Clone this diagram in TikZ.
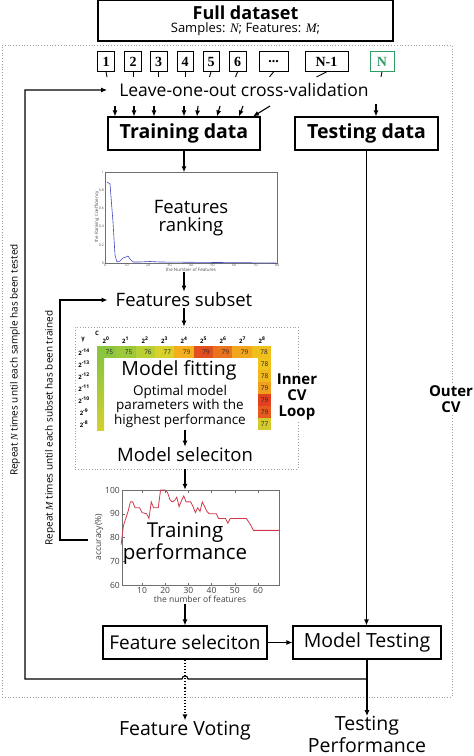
\documentclass[tikz,border=0pt]{standalone}
\usepackage{fontspec}
\setmainfont{Open Sans}
\newfontfamily\serifnum{Liberation Serif}
\usetikzlibrary{arrows.meta,positioning}

\definecolor{idgreen}{HTML}{2F9D63}
\definecolor{rankblue}{HTML}{4048C0}
\definecolor{accred}{HTML}{D2394C}
\definecolor{dotgray}{HTML}{A0A0A0}
\definecolor{axgray}{HTML}{707070}
% heat map colours
\definecolor{hmA}{HTML}{8CC540}
\definecolor{hmB}{HTML}{9CC93B}
\definecolor{hmC}{HTML}{B9CF33}
\definecolor{hmD}{HTML}{D7D12B}
\definecolor{hmE}{HTML}{F4B01B}
\definecolor{hmF}{HTML}{E3501F}
\definecolor{hmG}{HTML}{EA7320}
\definecolor{hmH}{HTML}{F2A61C}
\definecolor{hmI}{HTML}{EFC01C}
\definecolor{hmJ}{HTML}{F0C31C}
\definecolor{hmK}{HTML}{F1B71C}
\definecolor{hmL}{HTML}{EF9F1D}
\definecolor{hmM}{HTML}{E2401F}
\definecolor{hmN}{HTML}{E6591F}
\definecolor{hmO}{HTML}{D3CB2D}
\definecolor{hmP}{HTML}{D4D02C}

\newcommand{\itN}{{\serifnum\itshape N}}
\newcommand{\itM}{{\serifnum\itshape M}}
\newcommand{\fsz}[1]{\fontsize{#1}{#1}\selectfont}

\begin{document}
\begin{tikzpicture}[x=1pt, y=-1pt,
    box/.style={draw, line width=1.1pt, fill=white, inner sep=0pt},
    numbox/.style={draw, line width=0.9pt, minimum height=20pt, inner sep=0pt, font=\fsz{14}\serifnum\bfseries},
    arr/.style={-{Latex[length=6pt,width=5pt]}, line width=1.1pt},
    ticked/.style={line width=0.9pt},
    loopbox/.style={draw=dotgray, dotted, line width=0.8pt, inner sep=0pt},
    plotbox/.style={draw=axgray, line width=0.5pt, inner sep=0pt},
    axlabel/.style={font=\fsz{8.5}, text=black!75, inner sep=1pt},
    minilabel/.style={font=\fsz{3.5}, text=black!70, inner sep=0.5pt},
    hmval/.style={font=\fsz{6.5}, text=black!85, inner sep=0pt},
    hmhead/.style={font=\fsz{6}\bfseries, inner sep=0pt},
    steplabel/.style={font=\fsz{18.5}, inner sep=1pt, align=center},
    cvlabel/.style={font=\fontsize{15}{16}\selectfont\bfseries, fill=white, inner sep=1pt, align=center},
    repeatlabel/.style={font=\fsz{10}, rotate=90, inner sep=0pt},
  ]
  \useasboundingbox (0,0) rectangle (474,756);

  % Dotted frames of the two loops
  \node (outer) at (227,371) [loopbox, minimum width=450pt, minimum height=652pt] {};
  \node (inner) at (186.5,398) [loopbox, minimum width=223pt, minimum height=142pt] {};

  % Data set and the N folds
  \node (full) at (245.5,20.75) [box, minimum width=295pt, minimum height=40.5pt, align=center]
    {\fsz{18}\bfseries Full dataset\\[1pt]\fsz{13}Samples: \itN; Features: \itM;};
  \node (f1) at (106,61.5) [numbox, minimum width=17pt] {1};
  \node (f2) at (133,61.5) [numbox, minimum width=17pt] {2};
  \node (f3) at (158.5,61.5) [numbox, minimum width=17pt] {3};
  \node (f4) at (185,61.5) [numbox, minimum width=16pt] {4};
  \node (f5) at (211,61.5) [numbox, minimum width=16pt] {5};
  \node (f6) at (237.5,61.5) [numbox, minimum width=17pt] {6};
  \node (fdots) at (273.5,61.5) [numbox, minimum width=29pt] {...};
  \node (fN1) at (326.5,61.5) [numbox, minimum width=43pt] {N-1};
  \node (fN) at (382,61.5) [numbox, minimum width=24pt, draw=idgreen, text=idgreen, line width=0.7pt] {N};
  \foreach \f/\dx in {f1/1,f2/0,f3/0,f4/0,f5/-1.5,f6/-2,fdots/-4,fN1/-10,fN/-1}
  {
    \coordinate (\f-t) at ([xshift=\dx pt, yshift=-5pt]\f.south);
    \draw[ticked] (\f.south) -- (\f-t);
  }

  \node (loo) at (244,90) [steplabel, font=\fsz{17.5}] {Leave-one-out cross-validation};

  % Split into training and testing data
  \node (train) at (184,133.5) [box, minimum width=152pt, minimum height=33pt, font=\fsz{19.5}\bfseries] {Training data};
  \node (test) at (366.5,133.5) [box, minimum width=143pt, minimum height=33pt, font=\fsz{19.5}\bfseries] {Testing data};
  \foreach \sx/\ex [count=\i] in {115/115,134/134,154/154,184/184,198/197,220/217,243/239,270/253}
  {
    \coordinate (s\i) at (\sx,106);
    \draw[arr] (s\i) -- (\ex,0 |- train.north);
  }
  \coordinate (sN) at (376,104);
  \draw[arr] (sN) -- (sN |- test.north);

  % Features ranking plot
  \node (rank) at (191,218) [plotbox, minimum width=172pt, minimum height=91pt, font=\fsz{18.5}, align=center] {Features\\ranking};
  \foreach \t [count=\i from 0] in {0,0.2,0.4,0.6,0.8,1}
    \node (ry\i) at (104.5,{263-18.2*\i}) [minilabel, anchor=east] {\t};
  \foreach \t [count=\i from 0] in {0,10,...,80}
    \node (rx\i) at ({105+21.5*\i},263.5) [minilabel, anchor=north] {\t};
  \node (rankx) at (191,269.5) [minilabel, font=\fsz{4.5}] {the Number of Features};
  \node (ranky) at (97,217) [minilabel, rotate=90, font=\fsz{4.5}] {the Ranking Coefficiency};
  \draw[rankblue, line width=0.6pt] plot coordinates {(107,182) (110,184) (113,222) (115,255) (117,262) (120,261)
    (123,258) (126,257) (128,256) (130,259) (133,262) (140,262) (150,261.5) (160,262) (276,263)};
  \draw[arr] (train.south) -- (train.south |- rank.north);

  \node (fsub) at (184,300) [steplabel] {Features subset};
  \draw[arr] (fsub.north |- rankx.south) -- (fsub.north);
  \draw[arr] (fsub.south) -- (fsub.south |- inner.north);

  % Grid search map (C x gamma)
  \shade[top color=hmA, bottom color=hmP] (97,358) rectangle (104,430);
  \foreach \v/\c [count=\k from 0] in {75/hmA,75/hmB,76/hmC,77/hmD,79/hmE,79/hmF,79/hmG,79/hmH,78/hmI}
  {
    \fill[\c] ({97+19.33*\k},346) rectangle ++(19.4,12);
    \node (hc\k) at ({109.3+19.34*\k},352) [hmval] {\v};
    \node (hh\k) at ({106+19.5*\k},340) [hmhead] {2\textsuperscript{\k}};
  }
  \foreach \v/\c [count=\r] in {78/hmJ,78/hmK,79/hmL,79/hmM,79/hmN,77/hmO}
  {
    \fill[\c] (258,{346+12*\r}) rectangle ++(13,12);
    \node (hr\r) at (264.5,{352+12*\r}) [hmval] {\v};
  }
  \node (hcC) at (97,333) [hmhead] {C};
  \node (hg) at (83,340) [hmhead] {γ};
  \foreach \e [count=\r from 0] in {14,13,...,8}
    \node (hy\r) at (84,{352+12*\r}) [hmhead] {2\textsuperscript{-\e}};

  \node (fit) at (179,370) [font=\fsz{19.5}, inner sep=0pt] {Model fitting};
  \node (fitnote) at (180,406) [font=\fontsize{13.5}{14.5}\selectfont, align=center, inner sep=0pt]
    {Optimal model\\parameters with the\\highest performance};
  \coordinate (hmb) at (185,430);
  \node (msel) at (185,455) [steplabel] {Model seleciton};
  \draw[arr] (hmb) -- (msel.north);
  \node (innerlbl) at (297,397) [cvlabel] {Inner\\CV\\Loop};

  % Training performance plot
  \node (perf) at (200.5,537.5) [plotbox, minimum width=157pt, minimum height=95pt] {};
  \foreach \t [count=\i from 0] in {100,90,80,70,60}
  {
    \node (py\i) at (121,{490+23.75*\i}) [axlabel, anchor=east] {\t};
    \draw[axgray, line width=0.4pt] (122,{490+23.75*\i}) -- ++(2.5,0);
  }
  \foreach \t [count=\i] in {10,20,...,60}
  {
    \node (px\i) at ({118.8+23.2*\i},586) [axlabel, anchor=north] {\t};
    \draw[axgray, line width=0.4pt] ({118.8+23.2*\i},585) -- ++(0,-2.5);
    \draw[axgray, line width=0.4pt] ({118.8+23.2*\i},490) -- ++(0,2.5);
  }
  \node (perfx) at (200,599) [axlabel] {the number of features};
  \node (perfy) at (99,537) [axlabel, rotate=90] {accuracy(\%)};
  \begin{scope}[shift={(118.8,585)}, x=2.32pt, y=2.375pt]
    \draw[accred, line width=0.8pt] plot coordinates {(1,17) (2,25) (3,28) (4,31) (5,35) (6,35) (7,32.5) (9,32.5)
      (10,30.5) (12,30) (13,28) (14,35) (15,32.5) (17,32.5) (18,40) (20,40) (21,39) (22,36) (23,35) (24,35.5)
      (25,37) (26,33) (27,35.5) (28,37.5) (29,35) (31,35) (32,33) (33,30.5) (34,32.5) (35,31) (36,35) (37,33)
      (38,31) (39,30) (42,30) (43,28) (46,28) (47,26) (48,28) (55,28) (57,25) (58,23) (69,23)};
  \end{scope}
  \node (perftxt) at (185,543) [font=\fontsize{20.5}{22}\selectfont, align=center, inner sep=0pt] {Training\\performance};
  \draw[arr] (inner.south -| msel) -- (perf.north -| msel);

  % Selection and testing
  \node (fsel) at (185,642.5) [box, minimum width=164pt, minimum height=33pt, font=\fsz{19}] {Feature seleciton};
  \node (mtest) at (367,642.5) [box, minimum width=148pt, minimum height=33pt, font=\fsz{19.5}] {Model Testing};
  \draw[arr] (fsel.north |- perfx.south) -- (fsel.north);
  \draw[arr] (test.south) -- (test.south |- mtest.north);
  \draw[arr] (fsel) -- (mtest);
  \node (fvote) at (185,731) [steplabel, font=\fsz{19.5}] {Feature Voting};
  \node (tperf) at (367,734.5) [steplabel, font=\fontsize{19.5}{22}\selectfont, inner sep=0pt] {Testing\\Performance};
  \draw[arr, dotted] (fsel.south) -- (fvote.north);
  \draw[arr] (mtest.south) -- (tperf.north);

  % Loops back
  \coordinate (jn) at (367,679);
  \coordinate (cl) at (25,679);
  \draw[arr, shorten >=11pt] (jn) -- (188,679) arc[start angle=0, end angle=-180, radius=3] -- (cl) |- (loo.west);
  \coordinate (ml) at (88,540);
  \draw[arr, shorten >=7pt] (ml) -- (60,540) |- (fsub.west);
  \node (repN) at (15,360) [repeatlabel] {Repeat \itN{} times until each sample has been tested};
  \node (repM) at (50,428) [repeatlabel] {Repeat \itM{} times until each subset has been trained};
  \node (outerlbl) at (451,399) [cvlabel] {Outer\\CV};
\end{tikzpicture}
\end{document}
